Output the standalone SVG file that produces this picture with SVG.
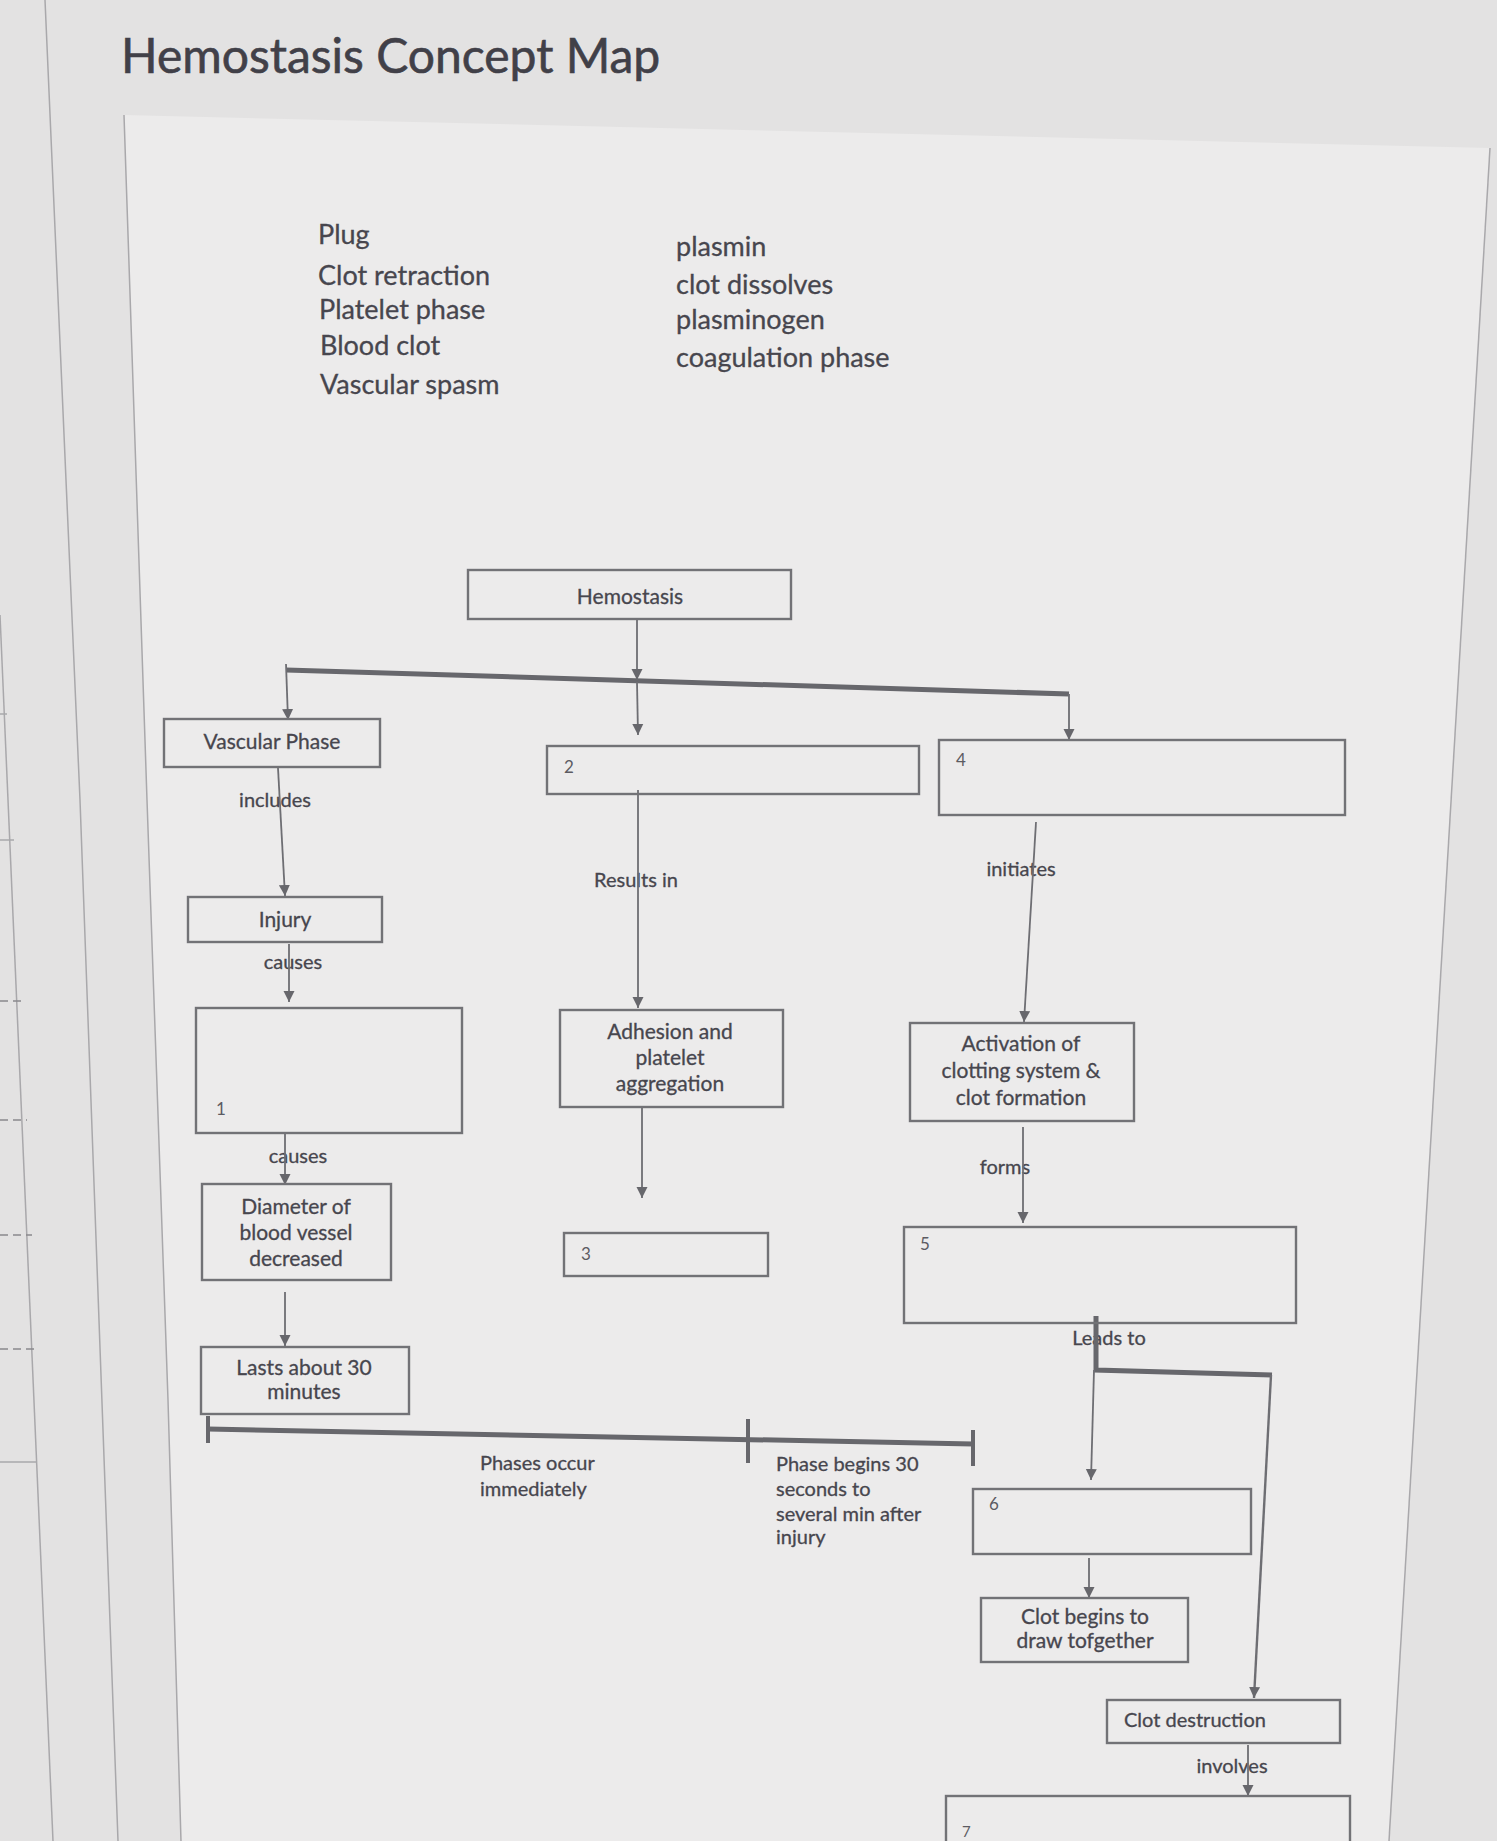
<svg xmlns="http://www.w3.org/2000/svg" width="1497" height="1841" viewBox="0 0 1497 1841">
<defs>
<style>
text{font-family:Lato,"Open Sans","Liberation Sans",sans-serif;fill:#47464e;stroke:#47464e;stroke-width:0.3}
.title{font-size:48px;fill:#414048;stroke:#414048;stroke-width:0.6}
.list{font-size:27px}
.lbl{font-size:21px;text-anchor:middle}
.edge{font-size:20px;text-anchor:middle}
.note{font-size:20px}
.num{font-size:17px;fill:#5c5b62;stroke:none}
.box{fill:none;stroke:#727276;stroke-width:2.4}
.ln{fill:none;stroke:#6e6e73;stroke-width:1.8}
.thick{fill:none;stroke:#67676c;stroke-width:5}
.deco{fill:none;stroke:#a9a8ab;stroke-width:1.5}
</style>
<marker id="arr" viewBox="0 0 10 10" refX="10" refY="5" markerWidth="11" markerHeight="12" markerUnits="userSpaceOnUse" orient="auto">
<path d="M0,0 L10,5 L0,10 z" fill="#67676c"/>
</marker>
</defs>

<rect x="0" y="0" width="1497" height="1841" fill="#e3e2e2"/>
<polygon points="124,115 1490,148 1389,1841 181,1841 168,1400 147,800" fill="#ecebeb"/>
<g id="screen-edges">
<polyline class="deco" points="124,115 147,800 168,1400 181,1841"/>
<line class="deco" x1="1490" y1="148" x2="1389" y2="1841"/>
<polyline class="deco" points="45,0 80,800 118,1841"/>
<line class="deco" x1="0" y1="615" x2="53" y2="1841"/>
<line x1="0" y1="1001" x2="22" y2="1001" stroke="#8a898d" stroke-width="1.5" stroke-dasharray="8,5"/>
<line x1="0" y1="1120" x2="27" y2="1120" stroke="#8a898d" stroke-width="1.5" stroke-dasharray="8,5"/>
<line x1="0" y1="1235" x2="32" y2="1235" stroke="#8a898d" stroke-width="1.5" stroke-dasharray="8,5"/>
<line x1="0" y1="1349" x2="36" y2="1349" stroke="#8a898d" stroke-width="1.5" stroke-dasharray="8,5"/>
<line class="deco" x1="0" y1="714" x2="7" y2="714"/>
<line class="deco" x1="0" y1="840" x2="14" y2="840"/>
<line class="deco" x1="0" y1="1462" x2="37" y2="1462"/>
</g>

<text class="title" x="121" y="73">Hemostasis Concept Map</text>

<g id="word-bank">
<text class="list" x="318" y="244">Plug</text>
<text class="list" x="318" y="285">Clot retraction</text>
<text class="list" x="319" y="319">Platelet phase</text>
<text class="list" x="320" y="355">Blood clot</text>
<text class="list" x="320" y="394">Vascular spasm</text>
<text class="list" x="676" y="256">plasmin</text>
<text class="list" x="676" y="294">clot dissolves</text>
<text class="list" x="676" y="329">plasminogen</text>
<text class="list" x="676" y="367">coagulation phase</text>
</g>

<g id="timeline">
<line class="thick" x1="208" y1="1429" x2="973" y2="1444"/>
<line x1="208" y1="1416" x2="208" y2="1443" stroke="#67676c" stroke-width="4"/>
<line x1="748" y1="1419" x2="748" y2="1463" stroke="#67676c" stroke-width="4"/>
<line x1="973" y1="1430" x2="973" y2="1466" stroke="#67676c" stroke-width="4"/>
<text class="note" x="480" y="1470">Phases occur</text>
<text class="note" x="480" y="1496">immediately</text>
<text class="note" x="776" y="1471">Phase begins 30</text>
<text class="note" x="776" y="1496">seconds to</text>
<text class="note" x="776" y="1521">several min after</text>
<text class="note" x="776" y="1544">injury</text>
</g>

<g id="connectors">
<line class="thick" x1="286" y1="670" x2="1069" y2="694"/>
<line class="ln" x1="637" y1="620" x2="637" y2="680" marker-end="url(#arr)"/>
<line class="ln" x1="286" y1="664" x2="288" y2="720" marker-end="url(#arr)"/>
<line class="ln" x1="637" y1="682" x2="638" y2="735" marker-end="url(#arr)"/>
<line class="ln" x1="1069" y1="694" x2="1069" y2="740" marker-end="url(#arr)"/>
<text class="edge" x="275" y="807">includes</text>
<line class="ln" x1="278" y1="768" x2="285" y2="896" marker-end="url(#arr)"/>
<text class="edge" x="293" y="969">causes</text>
<line class="ln" x1="289" y1="944" x2="289" y2="1002" marker-end="url(#arr)"/>
<text class="edge" x="636" y="887">Results in</text>
<line class="ln" x1="638" y1="790" x2="638" y2="1008" marker-end="url(#arr)"/>
<text class="edge" x="1021" y="876">initiates</text>
<line class="ln" x1="1036" y1="822" x2="1024" y2="1022" marker-end="url(#arr)"/>
<text class="edge" x="298" y="1163">causes</text>
<line class="ln" x1="285" y1="1133" x2="285" y2="1185" marker-end="url(#arr)"/>
<line class="ln" x1="642" y1="1108" x2="642" y2="1198" marker-end="url(#arr)"/>
<line class="ln" x1="285" y1="1292" x2="285" y2="1346" marker-end="url(#arr)"/>
<text class="edge" x="1005" y="1174">forms</text>
<line class="ln" x1="1023" y1="1127" x2="1023" y2="1223" marker-end="url(#arr)"/>
<text class="edge" x="1109" y="1345">Leads to</text>
<path class="thick" d="M1096,1316 L1096,1370 L1272,1375"/>
<line class="ln" x1="1094" y1="1370" x2="1091" y2="1480" marker-end="url(#arr)"/>
<line x1="1271" y1="1375" x2="1254" y2="1698" stroke="#6e6e73" stroke-width="2.4" marker-end="url(#arr)"/>
<line class="ln" x1="1089" y1="1558" x2="1089" y2="1598" marker-end="url(#arr)"/>
<text class="edge" x="1232" y="1773">involves</text>
<line class="ln" x1="1248" y1="1745" x2="1248" y2="1796" marker-end="url(#arr)"/>
</g>

<g id="hemostasis"><rect class="box" x="468" y="570" width="323" height="49"/><text class="lbl" x="630" y="604">Hemostasis</text></g>
<g id="vascular-phase"><rect class="box" x="164" y="719" width="216" height="48"/><text class="lbl" x="272" y="749">Vascular Phase</text></g>
<g id="box-2"><rect class="box" x="547" y="746" width="372" height="48"/><text class="num" x="564" y="773">2</text></g>
<g id="box-4"><rect class="box" x="939" y="740" width="406" height="75"/><text class="num" x="956" y="766">4</text></g>
<g id="injury"><rect class="box" x="188" y="897" width="194" height="45"/><text class="lbl" x="285" y="927">Injury</text></g>
<g id="box-1"><rect class="box" x="196" y="1008" width="266" height="125"/><text class="num" x="216" y="1115">1</text></g>
<g id="adhesion"><rect class="box" x="560" y="1010" width="223" height="97"/>
<text class="lbl" x="670" y="1039">Adhesion and</text><text class="lbl" x="670" y="1065">platelet</text><text class="lbl" x="670" y="1091">aggregation</text></g>
<g id="activation"><rect class="box" x="910" y="1023" width="224" height="98"/>
<text class="lbl" x="1021" y="1051">Activation of</text><text class="lbl" x="1021" y="1078">clotting system &amp;</text><text class="lbl" x="1021" y="1105">clot formation</text></g>
<g id="diameter"><rect class="box" x="202" y="1184" width="189" height="96"/>
<text class="lbl" x="296" y="1214">Diameter of</text><text class="lbl" x="296" y="1240">blood vessel</text><text class="lbl" x="296" y="1266">decreased</text></g>
<g id="box-3"><rect class="box" x="564" y="1233" width="204" height="43"/><text class="num" x="581" y="1260">3</text></g>
<g id="box-5"><rect class="box" x="904" y="1227" width="392" height="96"/><text class="num" x="920" y="1250">5</text></g>
<g id="lasts"><rect class="box" x="201" y="1347" width="208" height="67"/>
<text class="lbl" x="304" y="1375">Lasts about 30</text><text class="lbl" x="304" y="1399">minutes</text></g>
<g id="box-6"><rect class="box" x="973" y="1489" width="278" height="65"/><text class="num" x="989" y="1510">6</text></g>
<g id="clot-begins"><rect class="box" x="981" y="1598" width="207" height="64"/>
<text class="lbl" x="1085" y="1624">Clot begins to</text><text class="lbl" x="1085" y="1648">draw tofgether</text></g>
<g id="clot-destruction"><rect class="box" x="1107" y="1700" width="233" height="43"/><text class="note" x="1124" y="1727">Clot destruction</text></g>
<g id="box-7"><rect class="box" x="946" y="1796" width="404" height="70"/><text class="num" x="962" y="1837" style="font-size:15px">7</text></g>
</svg>
